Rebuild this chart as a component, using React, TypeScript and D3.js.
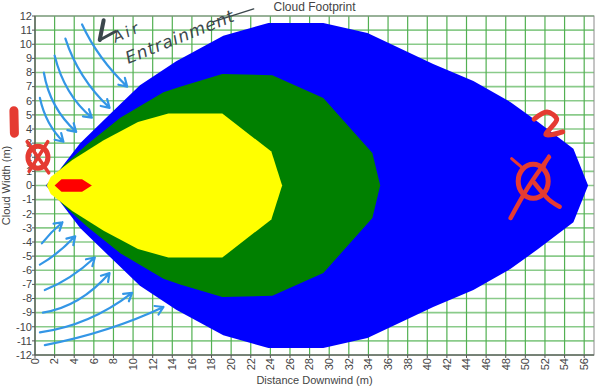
import React from "react";
import * as d3 from "d3";

const W = 600;
const H = 389;
const plot = { left: 35, right: 594, top: 16, bottom: 355 };

// cloud footprint contours: half-width (m) at each distance downwind (m), mirrored about y = 0
const blueDist = [1.1, 2.5, 4.6, 8.0, 10.7, 14.4, 19.2, 23.8, 29.4, 33.9, 40.6, 44.7, 48.5, 51.3, 54.9, 56.4];
const blueHalf = [0, 1.1, 3.0, 5.3, 7.1, 8.8, 10.6, 11.5, 11.5, 10.8, 8.6, 7.4, 5.9, 4.5, 2.6, 0];

const greenDist = [1.2, 2.9, 5.3, 8.7, 13.1, 14.8, 19.1, 24.2, 29.4, 34.4, 35.2];
const greenHalf = [0, 1.4, 2.9, 4.8, 6.6, 7.0, 7.9, 7.8, 6.2, 2.3, 0];

const yellowDist = [1.2, 1.6, 3.8, 7.0, 10.5, 13.6, 19.1, 24.1, 25.2];
const yellowHalf = [0, 0.6, 1.8, 3.2, 4.5, 5.1, 5.1, 2.4, 0];

const redDist = [2.0, 2.7, 4.8, 5.8];
const redHalf = [0, 0.45, 0.45, 0];

const xTicks = d3.range(0, 57, 2);
const yTicks = d3.range(-12, 13, 1);

// hand-drawn markup (data units): [start, control, end]
const upperArrows: [number, number][][] = [
  [[4.8, 11.4], [6.4, 9.0], [9.4, 7.0]],
  [[3.1, 10.4], [4.4, 7.6], [7.6, 5.5]],
  [[2.0, 9.2], [3.0, 6.4], [5.8, 4.8]],
  [[0.9, 8.0], [1.5, 5.5], [4.2, 3.8]],
  [[0.5, 6.2], [1.1, 4.3], [2.9, 3.1]],
];
const lowerArrows: [number, number][][] = [
  [[0.7, -4.1], [1.6, -3.3], [2.8, -2.6]],
  [[0.5, -5.6], [2.3, -4.9], [4.1, -3.6]],
  [[1.0, -7.4], [3.6, -6.7], [6.1, -5.1]],
  [[0.8, -9.0], [4.6, -8.6], [7.6, -6.2]],
  [[0.5, -10.4], [5.6, -9.9], [9.9, -7.6]],
  [[1.0, -11.3], [7.6, -10.4], [13.1, -8.6]],
];

const x = d3.scaleLinear().domain([0, 57]).range([plot.left, plot.right]);
const y = d3.scaleLinear().domain([-12, 12]).range([plot.bottom, plot.top]);

function footprint(dist: number[], half: number[]) {
  const upper = dist.map((d, i) => [d, half[i]] as [number, number]);
  const lower = dist.map((d, i) => [d, -half[i]] as [number, number]).reverse();
  return d3
    .line<[number, number]>()
    .x((p) => x(p[0]))
    .y((p) => y(p[1]))
    .curve(d3.curveLinearClosed)(upper.concat(lower)) ?? "";
}

function arrow(pts: [number, number][]) {
  const [s, c, e] = pts.map((p) => [x(p[0]), y(p[1])]);
  const body = `M${s[0]},${s[1]} Q${c[0]},${c[1]} ${e[0]},${e[1]}`;
  // arrow head from tangent at the end
  const ang = Math.atan2(e[1] - c[1], e[0] - c[0]);
  const len = 9;
  const h1 = [e[0] - len * Math.cos(ang - 0.55), e[1] - len * Math.sin(ang - 0.55)];
  const h2 = [e[0] - len * Math.cos(ang + 0.55), e[1] - len * Math.sin(ang + 0.55)];
  return `${body} M${h1[0]},${h1[1]} L${e[0]},${e[1]} L${h2[0]},${h2[1]}`;
}

const red = "#e53b32";
const ink = "#3b474c";
const font = "'Liberation Sans', Arial, sans-serif";

export default function App() {
  const curve = d3
    .line<[number, number]>()
    .x((p) => x(p[0]))
    .y((p) => y(p[1]))
    .curve(d3.curveCatmullRom);

  return (
    <div style={{ position: "absolute", left: 0, top: 0 }}>
      <svg width={W} height={H} style={{ display: "block", background: "white" }}>
        {/* grid */}
        <g>
          {yTicks.map((t) => (
            <line
              key={"h" + t}
              x1={plot.left}
              x2={plot.right}
              y1={y(t)}
              y2={y(t)}
              stroke="#8acb8a"
              strokeWidth={1.6}
            />
          ))}
          {xTicks.map((t) => (
            <line
              key={"v" + t}
              x1={x(t)}
              x2={x(t)}
              y1={plot.top}
              y2={plot.bottom}
              stroke="#52b052"
              strokeWidth={1.2}
            />
          ))}
        </g>

        {/* contours */}
        <path d={footprint(blueDist, blueHalf)} fill="#0000ff" />
        <path d={footprint(greenDist, greenHalf)} fill="#008000" />
        <path d={footprint(yellowDist, yellowHalf)} fill="#ffff00" />
        <path d={footprint(redDist, redHalf)} fill="#ff0000" />

        {/* frame and axes */}
        <rect
          x={plot.left}
          y={plot.top}
          width={plot.right - plot.left}
          height={plot.bottom - plot.top}
          fill="none"
          stroke="#8a8a8a"
          strokeWidth={1}
        />
        <line x1={plot.left} x2={plot.left} y1={plot.top} y2={plot.bottom} stroke="#555" />
        <line x1={plot.left} x2={plot.right} y1={plot.bottom} y2={plot.bottom} stroke="#555" />

        <g fontFamily={font} fontSize={11} fill="#444">
          {yTicks.map((t) => (
            <g key={"yt" + t}>
              <line x1={plot.left - 3} x2={plot.left} y1={y(t)} y2={y(t)} stroke="#555" />
              <text x={plot.left - 3} y={y(t)} dy="0.35em" textAnchor="end">
                {t}
              </text>
            </g>
          ))}
          {xTicks.map((t) => (
            <g key={"xt" + t}>
              <line x1={x(t)} x2={x(t)} y1={plot.bottom} y2={plot.bottom + 3} stroke="#555" />
              <text
                transform={`translate(${x(t)},${plot.bottom + 3}) rotate(-90)`}
                dy="0.35em"
                textAnchor="end"
              >
                {t}
              </text>
            </g>
          ))}
        </g>

        <text x={(plot.left + plot.right) / 2} y={11} textAnchor="middle" fontFamily={font} fontSize={12} fill="#444">
          Cloud Footprint
        </text>
        <text x={(plot.left + plot.right) / 2} y={384} textAnchor="middle" fontFamily={font} fontSize={11} fill="#444">
          Distance Downwind (m)
        </text>
        <text
          transform={`translate(10,${(plot.top + plot.bottom) / 2}) rotate(-90)`}
          textAnchor="middle"
          fontFamily={font}
          fontSize={11}
          fill="#444"
        >
          Cloud Width (m)
        </text>

        {/* hand-drawn markup */}
        <g fill="none" stroke="#3396e6" strokeWidth={2.2} strokeLinecap="round" strokeLinejoin="round">
          {upperArrows.concat(lowerArrows).map((a, i) => (
            <path key={"a" + i} d={arrow(a)} />
          ))}
        </g>

        <g fill="none" stroke={ink} strokeLinecap="round" strokeLinejoin="round">
          <path d={curve([[7.0, 11.7], [6.6, 10.3]]) ?? ""} strokeWidth={4} />
          <path d={curve([[6.6, 10.3], [8.2, 10.9]]) ?? ""} strokeWidth={3} />
          <path d={curve([[18.2, 11.6], [22.3, 12.5]]) ?? ""} strokeWidth={1.4} />
        </g>
        <g fontFamily="'DejaVu Sans', sans-serif" fontStyle="italic" fill={ink}>
          <text transform={`translate(${x(8.2)},${y(10.1)}) rotate(-24)`} fontSize={15} letterSpacing={3}>
            Air
          </text>
          <text transform={`translate(${x(9.5)},${y(8.6)}) rotate(-22)`} fontSize={17} letterSpacing={1}>
            Entrainment
          </text>
        </g>

        <g fill="none" stroke={red} strokeLinecap="round" strokeLinejoin="round">
          {/* "1" and marker on the left */}
          <path d={curve([[-2.15, 5.3], [-2.1, 3.7]]) ?? ""} strokeWidth={9} />
          <ellipse cx={x(0.3)} cy={y(2.0)} rx={10} ry={11} strokeWidth={5} />
          <path d={curve([[-0.8, 3.1], [1.4, 0.9]]) ?? ""} strokeWidth={3.5} />
          <path d={curve([[1.3, 3.1], [-0.6, 1.0]]) ?? ""} strokeWidth={3.5} />
          {/* "2" and marker on the right */}
          <path
            d={curve([[50.9, 4.7], [52.2, 5.2], [53.2, 4.7], [52.1, 3.6], [53.8, 3.8]]) ?? ""}
            strokeWidth={5}
          />
          <ellipse cx={x(50.8)} cy={y(0.3)} rx={15} ry={17} strokeWidth={5} />
          <path d={curve([[48.5, -2.3], [50.3, -0.1], [52.4, 2.0]]) ?? ""} strokeWidth={4.5} />
          <path d={curve([[50.9, 0.2], [52.4, -1.0], [53.5, -1.5]]) ?? ""} strokeWidth={4.5} />
          <path d={curve([[48.6, 1.9], [49.8, 1.2]]) ?? ""} strokeWidth={3} />
          <path d={curve([[52.4, 2.1], [51.9, 1.3]]) ?? ""} strokeWidth={3} />
        </g>
      </svg>
    </div>
  );
}
